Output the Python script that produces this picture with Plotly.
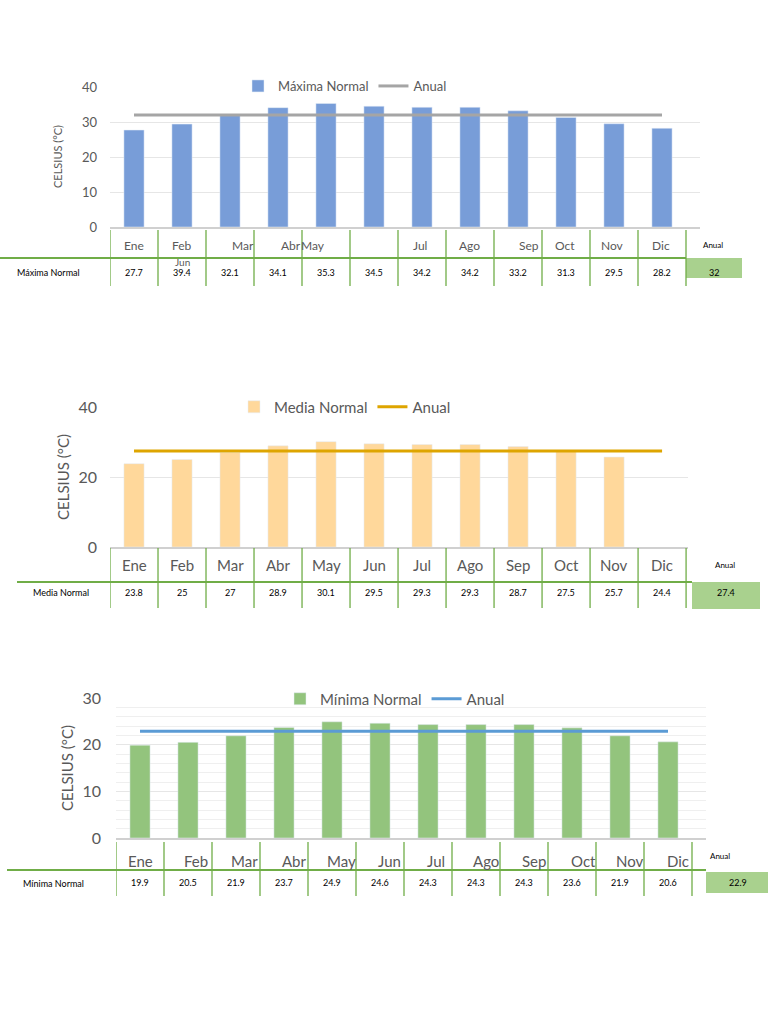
import plotly.graph_objects as go

# ---------------- data ----------------
MONTHS = ["Ene", "Feb", "Mar", "Abr", "May", "Jun", "Jul", "Ago", "Sep", "Oct", "Nov", "Dic"]

MAX_BARS = [27.7, 29.4, 32.1, 34.1, 35.3, 34.5, 34.2, 34.2, 33.2, 31.3, 29.5, 28.2]
MAX_TABLE = ["27.7", "39.4", "32.1", "34.1", "35.3", "34.5", "34.2", "34.2", "33.2", "31.3", "29.5", "28.2"]
MAX_ANUAL = 32

MED_BARS = [23.8, 25, 27, 28.9, 30.1, 29.5, 29.3, 29.3, 28.7, 27.5, 25.7, None]
MED_TABLE = ["23.8", "25", "27", "28.9", "30.1", "29.5", "29.3", "29.3", "28.7", "27.5", "25.7", "24.4"]
MED_ANUAL = 27.4

MIN_BARS = [19.9, 20.5, 21.9, 23.7, 24.9, 24.6, 24.3, 24.3, 24.3, 23.6, 21.9, 20.6]
MIN_TABLE = ["19.9", "20.5", "21.9", "23.7", "24.9", "24.6", "24.3", "24.3", "24.3", "23.6", "21.9", "20.6"]
MIN_ANUAL = 22.9

Y_TITLE = "CELSIUS (°C)"

# ---------------- layout helpers ----------------
W, H = 768, 1024
FONT = "Lato, Liberation Sans, sans-serif"
GREEN = "#70ad47"
CELL = "#a9d18e"
GRAY_TXT = "#595959"


def px(x):
    return x / W


def py(y):
    return 1 - y / H


fig = go.Figure()

charts = [
    dict(name="Máxima Normal", bars=MAX_BARS, table=MAX_TABLE, anual=MAX_ANUAL,
         bar_color="#789dd8", line_color="#a5a5a5",
         xdom=(110, 700), xmax=11.5 + 14 / 48, ytop=87, ybot=227, yrange=[0, 40], dtick=10, minor=None,
         tickfont=13, standoff=12, titlefont=11, title_pos=(57, 157),
         legend=dict(x=345, y=86, size=13),
         head=(230, 258), row_bot=286, line_left=0, anual_cell=(686, 742, 258, 278),
         anual_lbl=(713, 245), row_lbl=(15, 272), val_y=272, month_y=245, month_size=12,
         month_shift=[0, 0, 13, 13, -13, None, -2, -1, 11, -1, -2, -1], val_size=9),
    dict(name="Media Normal", bars=MED_BARS, table=MED_TABLE, anual=MED_ANUAL,
         bar_color="#ffd89b", line_color="#dea500",
         xdom=(110, 688), xmax=11.54, ytop=407, ybot=547, yrange=[0, 40], dtick=20, minor=None,
         tickfont=16, standoff=12, titlefont=15, title_pos=(63, 477),
         legend=dict(x=345, y=407, size=15),
         head=(548, 582), row_bot=608, line_left=17, anual_cell=(692, 760, 582, 609),
         anual_lbl=(725, 565), row_lbl=(31, 592), val_y=592, month_y=565, month_size=15,
         month_shift=[0] * 12, val_size=9),
    dict(name="Mínima Normal", bars=MIN_BARS, table=MIN_TABLE, anual=MIN_ANUAL,
         bar_color="#93c47d", line_color="#5b9bd5",
         xdom=(116, 706), xmax=11.5 + 14 / 48, ytop=698, ybot=838, yrange=[0, 30], dtick=10, minor=2,
         tickfont=16, standoff=14, titlefont=15, title_pos=(67, 768),
         legend=dict(x=395, y=699, size=15),
         head=(842, 870), row_bot=896, line_left=7, anual_cell=(706, 770, 872, 893),
         anual_lbl=(720, 856), row_lbl=(21, 883), val_y=882, month_y=861, month_size=15,
         month_shift=[0, 8, 8, 10, 9, 9, 8, 10, 10, 11, 10, 10], val_size=9),
]

shapes = []
annotations = []


def note(text, x, y, size, color="#000000", xref="paper", xanchor="center", xshift=0, angle=0):
    annotations.append(dict(text=text, xref=xref, yref="paper", x=x, y=y, xanchor=xanchor,
                            yanchor="middle", xshift=xshift, showarrow=False, textangle=angle,
                            font=dict(family=FONT, size=size, color=color)))


for k, c in enumerate(charts, start=1):
    xa = "x" if k == 1 else f"x{k}"
    ya = "y" if k == 1 else f"y{k}"
    leg = "legend" if k == 1 else f"legend{k}"

    fig.add_trace(go.Bar(x=MONTHS, y=c["bars"], name=c["name"], marker_color=c["bar_color"],
                         xaxis=xa, yaxis=ya, legend=leg, width=0.42))
    fig.add_trace(go.Scatter(x=MONTHS, y=[c["anual"]] * len(MONTHS), name="Anual", mode="lines",
                             line=dict(color=c["line_color"], width=3), xaxis=xa, yaxis=ya, legend=leg))

    xkey = "xaxis" if k == 1 else f"xaxis{k}"
    ykey = "yaxis" if k == 1 else f"yaxis{k}"
    yaxis = dict(domain=[py(c["ybot"]), py(c["ytop"])], range=c["yrange"], dtick=c["dtick"],
                 anchor=xa, showgrid=True, gridcolor="#e6e6e6", gridwidth=1, zeroline=False,
                 tickfont=dict(family=FONT, size=c["tickfont"], color=GRAY_TXT),
                 ticklabelstandoff=c["standoff"], showline=False, automargin=False)
    if c["minor"]:
        yaxis["minor"] = dict(dtick=c["minor"], showgrid=True, gridcolor="#efefef", gridwidth=1)
    fig.update_layout({
        xkey: dict(domain=[px(c["xdom"][0]), px(c["xdom"][1])], range=[-0.5, c["xmax"]],
                   anchor=ya, showticklabels=False, showgrid=False, zeroline=False, automargin=False,
                   showline=True, linecolor="#d0d0d0", linewidth=2, type="category"),
        ykey: yaxis,
        leg: dict(orientation="h", x=px(c["legend"]["x"]), y=py(c["legend"]["y"]), xanchor="center",
                  yanchor="middle", font=dict(family=FONT, size=c["legend"]["size"], color=GRAY_TXT),
                  bgcolor="rgba(0,0,0,0)", itemwidth=30, tracegroupgap=0),
    })

    # y-axis title
    note(Y_TITLE, px(c["title_pos"][0]), py(c["title_pos"][1]), c["titlefont"], GRAY_TXT, angle=-90)

    h0, h1 = c["head"]
    # green horizontal rule under the header row
    shapes.append(dict(type="line", xref="paper", yref="paper",
                       x0=px(c["line_left"]), x1=px(c["anual_cell"][0]),
                       y0=py(h1), y1=py(h1), line=dict(color=GREEN, width=2)))
    # vertical cell borders on the category boundaries
    for i in range(len(MONTHS) + 1):
        shapes.append(dict(type="line", xref=xa, yref="paper",
                           x0=i - 0.5, x1=i - 0.5, y0=py(h0), y1=py(c["row_bot"]),
                           line=dict(color=GREEN, width=1.3)))
    # annual cell
    ax0, ax1, ay0, ay1 = c["anual_cell"]
    shapes.append(dict(type="rect", xref="paper", yref="paper", x0=px(ax0), x1=px(ax1),
                       y0=py(ay1), y1=py(ay0), fillcolor=CELL, line=dict(width=0), layer="below"))
    note(str(c["anual"]), px((ax0 + ax1) / 2), py(c["val_y"]), c["val_size"])
    note("Anual", px(c["anual_lbl"][0]), py(c["anual_lbl"][1]), 8)
    note(c["name"], px(c["row_lbl"][0]), py(c["row_lbl"][1]), 9, xanchor="left")
    for i, (m, v) in enumerate(zip(MONTHS, c["table"])):
        note(v, i, py(c["val_y"]), c["val_size"], xref=xa)
        sh = c["month_shift"][i]
        if sh is None:
            # misplaced label drawn under the Feb header (as in the source)
            note(m, 1, py(262), 10, GRAY_TXT, xref=xa)
        else:
            note(m, i, py(c["month_y"]), c["month_size"], GRAY_TXT, xref=xa, xshift=sh)

fig.update_layout(
    width=W, height=H, margin=dict(l=0, r=0, t=0, b=0, pad=0, autoexpand=False),
    paper_bgcolor="white", plot_bgcolor="white",
    barmode="group", shapes=shapes, annotations=annotations,
    font=dict(family=FONT, color=GRAY_TXT),
)

fig.write_html("out.html")
